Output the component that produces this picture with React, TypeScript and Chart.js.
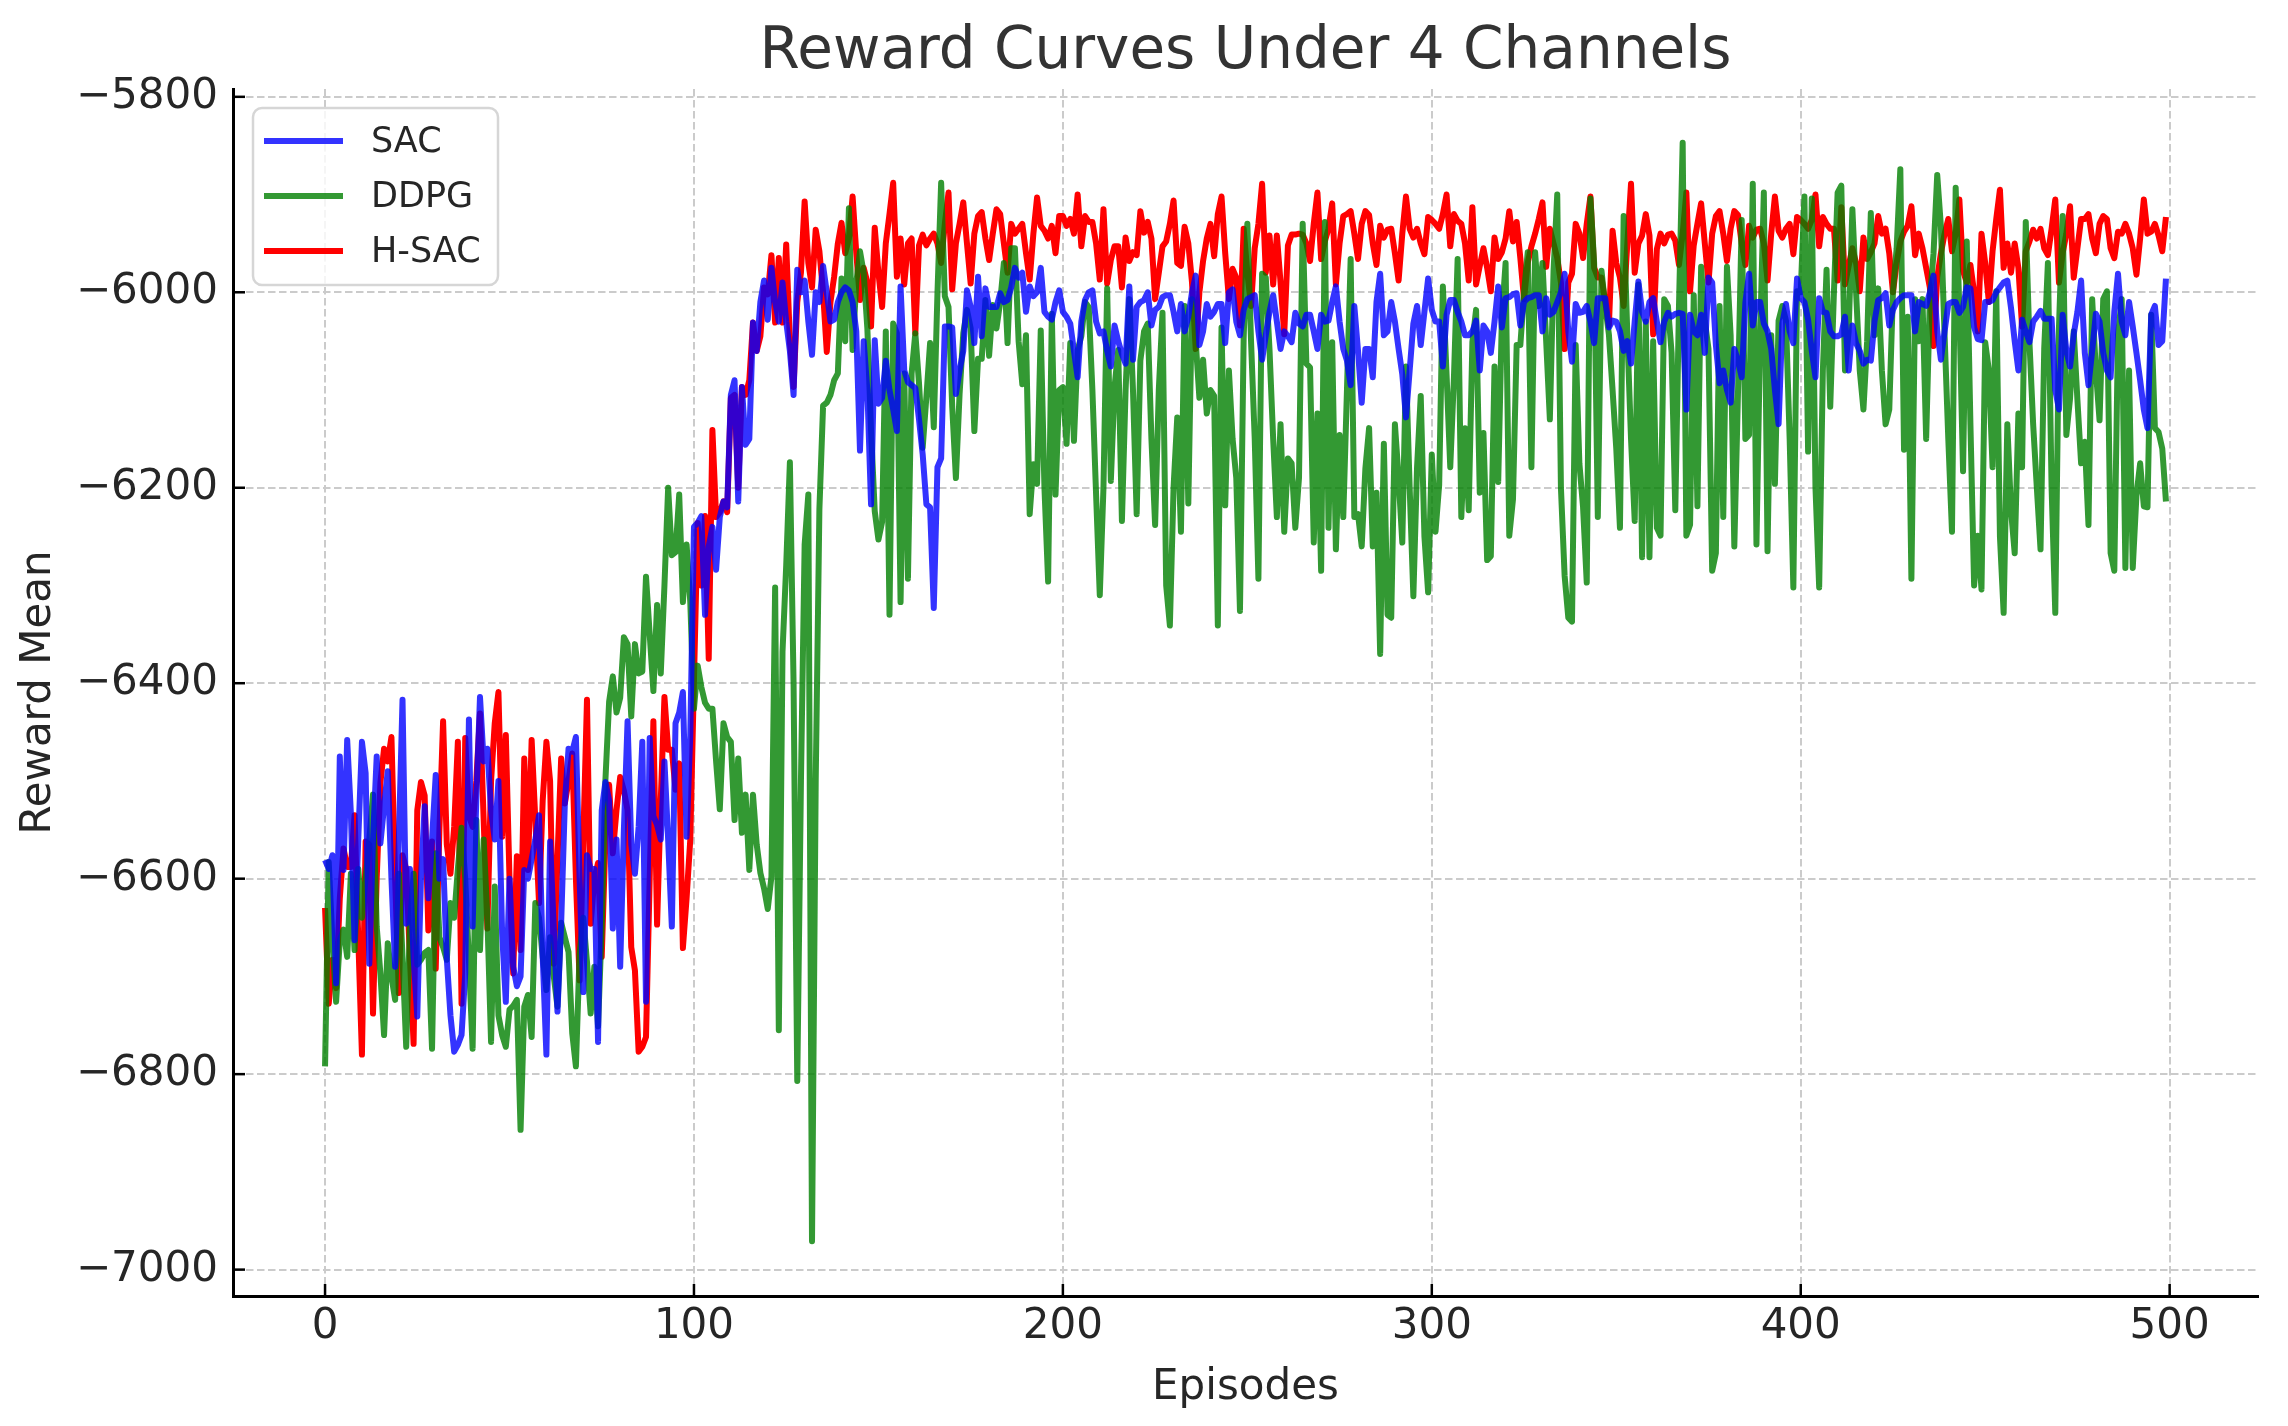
import { useEffect, useRef } from "react";
import { Chart, registerables } from "chart.js";

Chart.register(...registerables);

const TITLE = "Reward Curves Under 4 Channels";
const X_LABEL = "Episodes";
const Y_LABEL = "Reward Mean";
const SERIES_NAMES = ["SAC", "DDPG", "H-SAC"];
const X_TICKS = [0, 100, 200, 300, 400, 500];
const Y_TICKS = [-7000, -6800, -6600, -6400, -6200, -6000, -5800];

const SAC = [
  -6581,-6590,-6576,-6707,-6475,-6591,-6458,-6533,-6663,-6560,
  -6460,-6492,-6687,-6560,-6475,-6564,-6526,-6490,-6600,-6690,
  -6560,-6417,-6646,-6590,-6680,-6741,-6600,-6526,-6620,-6560,
  -6494,-6600,-6580,-6682,-6740,-6777,-6770,-6760,-6697,-6437,
  -6649,-6520,-6414,-6480,-6467,-6530,-6560,-6500,-6656,-6726,
  -6600,-6690,-6710,-6700,-6591,-6600,-6580,-6560,-6535,-6680,
  -6780,-6562,-6650,-6736,-6646,-6523,-6467,-6470,-6455,-6600,
  -6716,-6576,-6590,-6590,-6767,-6530,-6501,-6520,-6651,-6560,
  -6690,-6550,-6439,-6565,-6595,-6547,-6460,-6726,-6456,-6536,
  -6545,-6560,-6480,-6560,-6649,-6441,-6430,-6409,-6557,-6453,
  -6240,-6236,-6229,-6330,-6260,-6240,-6284,-6230,-6214,-6220,
  -6105,-6090,-6214,-6097,-6156,-6150,-6031,-6060,-6010,-5988,
  -6028,-5975,-6010,-6030,-5990,-6030,-6060,-6105,-5977,-6000,
  -5988,-6030,-6064,-6000,-6010,-5973,-6000,-6030,-6028,-6010,
  -6000,-5995,-5998,-6010,-6040,-6162,-6050,-6100,-6217,-6049,
  -6114,-6108,-6070,-6100,-6120,-6142,-5994,-6080,-6092,-6095,
  -6098,-6130,-6166,-6217,-6220,-6323,-6179,-6170,-6035,-6035,
  -6036,-6104,-6080,-6060,-5998,-6015,-6052,-5984,-6045,-5996,
  -6015,-6015,-6015,-6001,-6010,-6008,-5995,-5975,-5985,-5980,
  -6020,-5994,-6004,-6000,-5975,-6020,-6025,-6028,-6010,-5998,
  -6020,-6025,-6032,-6060,-6087,-6030,-6008,-6000,-5998,-6030,
  -6042,-6040,-6060,-6076,-6034,-6050,-6063,-6073,-5994,-6069,
  -6015,-6010,-6008,-6000,-6034,-6018,-6015,-6005,-6003,-6003,
  -6020,-6040,-6012,-6040,-6025,-6000,-5983,-6054,-6040,-6012,
  -6025,-6020,-6012,-6012,-6052,-6000,-5997,-6030,-6044,-6018,
  -6007,-6005,-6003,-6040,-6069,-6044,-6020,-6003,-6030,-6058,
  -6040,-6045,-6051,-6021,-6032,-6035,-6023,-6023,-6040,-6058,
  -6023,-6030,-6029,-6010,-5994,-6030,-6058,-6070,-6095,-6014,
  -6060,-6113,-6058,-6058,-6087,-6010,-5981,-6044,-6040,-6010,
  -6030,-6058,-6084,-6128,-6080,-6032,-6014,-6054,-6020,-5986,
  -6018,-6030,-6030,-6076,-6023,-6008,-6008,-6020,-6030,-6044,
  -6044,-6040,-6029,-6080,-6034,-6040,-6062,-6030,-5994,-6036,
  -6006,-6005,-6002,-6001,-6034,-6010,-6006,-6005,-6003,-6003,
  -6040,-6006,-6023,-6020,-6010,-6000,-5981,-6040,-6071,-6012,
  -6021,-6020,-6014,-6030,-6052,-6006,-6006,-6006,-6036,-6029,
  -6030,-6040,-6060,-6050,-6073,-6030,-5989,-6020,-6030,-6010,
  -6006,-6030,-6051,-6030,-6021,-6025,-6022,-6021,-6022,-6120,
  -6023,-6040,-6044,-6023,-6062,-5985,-5990,-6054,-6093,-6080,
  -6100,-6113,-6058,-6070,-6087,-6010,-5981,-6034,-6010,-6010,
  -6032,-6040,-6058,-6100,-6135,-6032,-6012,-6040,-6052,-5986,
  -6006,-6010,-6028,-6060,-6087,-6006,-6020,-6021,-6040,-6045,
  -6045,-6043,-6025,-6080,-6034,-6052,-6060,-6073,-6069,-6070,
  -6030,-6008,-6006,-6001,-6034,-6018,-6010,-6006,-6003,-6003,
  -6003,-6040,-6010,-6012,-6014,-6000,-5983,-6040,-6069,-6040,
  -6012,-6010,-6010,-6021,-6015,-5995,-5996,-6036,-6048,-6049,
  -6010,-6010,-6008,-6000,-5995,-5990,-5988,-6016,-6050,-6080,
  -6028,-6040,-6051,-6030,-6025,-6019,-6027,-6027,-6027,-6100,
  -6120,-6023,-6060,-6076,-6043,-6020,-5988,-6062,-6095,-6060,
  -6022,-6030,-6062,-6080,-6087,-6020,-5981,-6030,-6044,-6010,
  -6035,-6062,-6090,-6120,-6139,-6023,-6014,-6054,-6050,-5986,
];

const DDPG = [
  -6792,-6583,-6663,-6726,-6663,-6652,-6680,-6595,-6673,-6590,
  -6640,-6600,-6560,-6514,-6649,-6697,-6760,-6666,-6700,-6724,
  -6595,-6680,-6772,-6649,-6595,-6688,-6683,-6676,-6673,-6774,
  -6574,-6660,-6670,-6683,-6625,-6640,-6590,-6548,-6600,-6683,
  -6774,-6540,-6673,-6560,-6640,-6767,-6608,-6740,-6760,-6772,
  -6734,-6730,-6724,-6857,-6731,-6719,-6762,-6625,-6640,-6680,
  -6714,-6660,-6700,-6731,-6645,-6660,-6675,-6758,-6792,-6677,
  -6640,-6685,-6738,-6690,-6751,-6649,-6499,-6419,-6393,-6430,
  -6415,-6353,-6360,-6434,-6360,-6390,-6388,-6291,-6350,-6408,
  -6320,-6390,-6300,-6200,-6269,-6266,-6207,-6317,-6258,-6317,
  -6426,-6382,-6404,-6420,-6426,-6426,-6480,-6529,-6441,-6455,
  -6460,-6540,-6477,-6553,-6514,-6591,-6514,-6565,-6594,-6610,
  -6631,-6598,-6302,-6755,-6368,-6280,-6174,-6400,-6807,-6500,
  -6258,-6207,-6971,-6500,-6222,-6116,-6113,-6105,-6090,-6083,
  -5986,-6050,-5914,-6059,-5990,-5958,-5980,-6037,-6141,-6224,
  -6253,-6235,-6040,-6330,-6032,-6042,-6317,-6083,-6293,-6083,
  -6042,-6093,-6159,-6107,-6052,-6138,-6001,-5888,-6004,-6015,
  -6117,-6190,-6104,-6042,-6018,-6037,-6142,-6068,-6068,-6008,
  -6065,-6013,-6037,-6010,-5970,-6052,-5955,-5955,-6050,-6094,
  -6044,-6227,-6176,-6196,-6039,-6200,-6296,-6022,-6207,-6100,
  -6097,-6155,-6052,-6152,-6059,-6045,-6010,-6015,-6100,-6207,
  -6310,-6200,-5996,-6193,-6097,-6059,-6234,-6100,-6007,-6100,
  -6227,-6070,-6040,-6032,-6150,-6238,-6100,-6021,-6300,-6341,
  -6200,-6128,-6245,-6014,-6216,-6007,-6050,-6108,-6069,-6124,
  -6100,-6106,-6341,-6036,-6218,-6080,-6150,-6190,-6326,-6047,
  -5930,-6050,-6150,-6293,-5981,-5985,-6058,-6150,-6230,-6135,
  -6245,-6170,-6175,-6241,-6190,-5930,-6073,-6077,-6256,-6124,
  -6285,-5928,-6241,-6051,-6263,-6146,-6230,-6100,-5966,-6230,
  -6227,-6260,-6180,-6139,-6260,-6205,-6370,-6155,-6330,-6333,
  -6135,-6190,-6256,-6076,-6200,-6311,-6179,-6106,-6250,-6307,
  -6166,-6245,-6197,-5994,-6084,-6179,-6087,-5966,-6230,-6139,
  -6223,-6051,-6018,-6205,-6144,-6274,-6270,-6076,-6194,-6025,
  -5970,-6249,-6212,-6054,-6054,-6000,-5959,-6179,-5959,-6014,
  -5970,-6050,-6130,-5978,-5900,-6200,-6290,-6333,-6337,-6054,
  -6175,-6220,-6297,-5904,-5970,-6230,-5978,-6014,-6043,-6100,
  -6160,-6241,-5922,-6043,-6150,-6234,-5992,-6271,-6030,-6271,
  -6050,-6241,-6249,-6007,-6014,-6062,-6223,-6014,-5847,-6249,
  -6238,-6003,-6219,-5974,-6029,-6058,-6285,-6267,-6014,-6230,
  -5974,-6044,-6260,-6102,-5926,-6150,-6146,-5889,-6258,-6044,
  -5898,-6265,-6044,-6196,-6029,-6014,-6029,-6150,-6302,-5999,
  -6000,-5902,-6163,-5904,-6200,-6302,-6080,-5977,-6117,-6000,
  -5898,-5891,-6080,-6040,-5915,-5999,-6080,-6120,-6050,-5919,
  -6044,-5996,-6080,-6135,-6120,-6000,-5955,-5874,-6161,-6025,
  -6293,-6007,-6050,-6007,-6150,-6007,-5960,-5880,-5933,-6044,
  -6150,-6245,-5893,-6018,-6183,-5948,-6135,-6300,-6249,-6304,
  -6051,-6080,-6179,-5999,-6250,-6328,-6135,-6223,-6267,-6124,
  -6179,-5928,-6051,-6135,-6200,-6263,-6058,-5970,-6200,-6328,
  -6036,-5922,-6146,-6109,-6040,-6110,-6175,-6153,-6238,-6007,
  -6080,-6131,-6007,-5999,-6267,-6285,-6044,-6007,-6282,-6080,
  -6282,-6208,-6175,-6219,-6220,-6023,-6139,-6143,-6160,-6214,
];

const HSAC = [
  -6630,-6728,-6683,-6712,-6620,-6569,-6588,-6588,-6535,-6660,
  -6780,-6562,-6565,-6738,-6600,-6502,-6467,-6480,-6455,-6600,
  -6717,-6576,-6590,-6680,-6769,-6530,-6501,-6515,-6653,-6562,
  -6692,-6550,-6439,-6565,-6595,-6547,-6460,-6728,-6456,-6536,
  -6547,-6500,-6431,-6540,-6651,-6500,-6441,-6409,-6557,-6453,
  -6600,-6697,-6577,-6673,-6477,-6591,-6458,-6540,-6625,-6520,
  -6460,-6500,-6687,-6580,-6477,-6523,-6500,-6472,-6600,-6704,
  -6560,-6417,-6646,-6600,-6584,-6680,-6560,-6504,-6574,-6530,
  -6496,-6510,-6530,-6670,-6694,-6777,-6772,-6762,-6600,-6439,
  -6647,-6520,-6414,-6468,-6468,-6509,-6482,-6671,-6620,-6560,
  -6397,-6236,-6300,-6229,-6375,-6141,-6230,-6225,-6214,-6225,
  -6108,-6105,-6200,-6097,-6105,-6090,-6031,-6060,-6045,-5995,
  -6002,-5962,-6031,-5965,-6031,-5951,-6050,-6097,-6010,-5980,
  -5907,-5970,-5995,-5936,-5958,-6000,-6061,-6010,-5984,-5950,
  -5929,-5960,-5945,-5902,-5960,-6008,-5975,-5990,-6035,-5934,
  -5980,-6015,-5950,-5920,-5888,-5984,-5945,-5992,-5950,-5945,
  -6042,-5952,-5941,-5952,-5945,-5940,-5950,-5970,-5930,-5898,
  -5997,-5950,-5930,-5908,-5950,-5991,-5940,-5922,-5918,-5945,
  -5967,-5940,-5915,-5920,-5950,-5980,-5930,-5940,-5935,-5930,
  -5960,-5987,-5940,-5903,-5932,-5937,-5945,-5932,-5960,-5922,
  -5922,-5932,-5925,-5940,-5900,-5953,-5922,-5928,-5928,-5950,
  -5987,-5915,-5991,-5967,-5953,-5953,-5995,-5944,-5968,-5959,
  -5962,-5917,-5939,-5928,-5945,-6007,-5980,-5953,-5948,-5930,
  -5906,-5970,-5973,-5933,-5950,-5990,-6058,-6000,-5968,-5945,
  -5930,-5963,-5920,-5902,-5960,-6007,-5976,-5985,-6034,-5935,
  -5980,-6014,-5955,-5930,-5889,-5980,-5942,-5992,-5942,-5990,
  -6043,-5952,-5941,-5941,-5940,-5941,-5950,-5968,-5930,-5898,
  -5966,-5948,-5935,-5909,-5992,-5950,-5922,-5920,-5917,-5940,
  -5966,-5930,-5917,-5921,-5950,-5972,-5932,-5944,-5936,-5935,
  -5960,-5988,-5940,-5902,-5935,-5944,-5935,-5950,-5961,-5923,
  -5926,-5930,-5935,-5920,-5900,-5953,-5920,-5927,-5930,-5950,
  -5988,-5913,-5992,-5973,-5955,-5975,-5999,-5944,-5966,-5959,
  -5945,-5917,-5948,-5928,-5965,-6007,-5970,-5953,-5940,-5925,
  -5908,-5974,-5935,-5950,-5965,-5990,-6058,-5990,-5981,-5930,
  -5940,-5965,-5930,-5902,-5975,-5985,-5985,-6010,-6034,-5937,
  -5970,-5985,-6014,-5950,-5889,-5980,-5950,-5942,-5920,-5942,
  -6043,-5956,-5940,-5950,-5941,-5940,-5947,-5972,-5940,-5898,
  -5999,-5952,-5930,-5909,-5950,-5990,-5940,-5922,-5917,-5940,
  -5968,-5935,-5917,-5921,-5950,-5972,-5932,-5944,-5936,-5935,
  -5950,-5988,-5940,-5902,-5937,-5944,-5935,-5930,-5961,-5923,
  -5926,-5930,-5935,-5926,-5900,-5953,-5923,-5930,-5935,-5935,
  -5988,-5913,-5992,-5973,-5955,-5970,-5999,-5944,-5966,-5959,
  -5950,-5922,-5940,-5935,-5960,-6000,-5970,-5948,-5938,-5932,
  -5912,-5962,-5940,-5955,-5975,-5995,-6055,-5985,-5960,-5940,
  -5925,-5958,-5940,-5905,-5978,-5990,-5972,-6000,-6040,-5940,
  -5970,-6010,-5958,-5925,-5895,-5975,-5950,-5980,-5950,-5975,
  -6035,-5958,-5948,-5936,-5945,-5935,-5955,-5962,-5935,-5905,
  -5990,-5960,-5940,-5912,-5985,-5955,-5925,-5925,-5920,-5945,
  -5960,-5930,-5922,-5925,-5955,-5965,-5938,-5940,-5930,-5940,
  -5955,-5982,-5945,-5905,-5940,-5938,-5930,-5942,-5958,-5923,
];

const EPISODES = SAC.map((_, i) => i);

const FONT = '"DejaVu Sans", sans-serif';
const TEXT_COLOR = "#262626";
const COLORS = ["rgba(0,0,255,0.8)", "rgba(0,128,0,0.8)", "rgb(255,0,0)"];

const overlay = {
  id: "overlay",
  afterDraw(chart: any) {
    const ctx = chart.ctx as CanvasRenderingContext2D;
    const a = chart.chartArea;
    const xs = chart.scales.x;
    const ys = chart.scales.y;
    ctx.save();
    // inward tick marks
    ctx.setLineDash([]);
    ctx.strokeStyle = "#000";
    ctx.lineWidth = 2.5;
    X_TICKS.forEach((v) => {
      const px = xs.getPixelForValue(v);
      ctx.beginPath();
      ctx.moveTo(px, a.bottom);
      ctx.lineTo(px, a.bottom - 12);
      ctx.stroke();
    });
    Y_TICKS.forEach((v) => {
      const py = ys.getPixelForValue(v);
      ctx.beginPath();
      ctx.moveTo(a.left, py);
      ctx.lineTo(a.left + 12, py);
      ctx.stroke();
    });
    // title
    const cx = (a.left + a.right) / 2;
    ctx.fillStyle = "#333333";
    ctx.font = `58px ${FONT}`;
    ctx.textAlign = "center";
    ctx.textBaseline = "alphabetic";
    ctx.fillText(TITLE, cx, 68);
    // axis labels
    ctx.fillStyle = TEXT_COLOR;
    ctx.font = `42px ${FONT}`;
    ctx.fillText(X_LABEL, cx, 1399);
    ctx.save();
    ctx.translate(50, (a.top + a.bottom) / 2);
    ctx.rotate(-Math.PI / 2);
    ctx.fillText(Y_LABEL, 0, 0);
    ctx.restore();
    // legend
    const lx = a.left + 20;
    const ly = a.top + 19;
    const lw = 245;
    const lh = 177;
    const r = 9;
    ctx.beginPath();
    ctx.moveTo(lx + r, ly);
    ctx.arcTo(lx + lw, ly, lx + lw, ly + lh, r);
    ctx.arcTo(lx + lw, ly + lh, lx, ly + lh, r);
    ctx.arcTo(lx, ly + lh, lx, ly, r);
    ctx.arcTo(lx, ly, lx + lw, ly, r);
    ctx.closePath();
    ctx.fillStyle = "rgba(255,255,255,0.8)";
    ctx.fill();
    ctx.strokeStyle = "#d6d6d6";
    ctx.lineWidth = 2.5;
    ctx.stroke();
    ctx.font = `35px ${FONT}`;
    ctx.textAlign = "left";
    ctx.textBaseline = "middle";
    SERIES_NAMES.forEach((name, i) => {
      const y = ly + 33 + i * 55;
      ctx.strokeStyle = COLORS[i];
      ctx.lineWidth = 6;
      ctx.lineCap = "butt";
      ctx.beginPath();
      ctx.moveTo(lx + 11, y);
      ctx.lineTo(lx + 90, y);
      ctx.stroke();
      ctx.fillStyle = TEXT_COLOR;
      ctx.fillText(name, lx + 118, y + 2);
    });
    ctx.restore();
  },
};

const GRID = {
  color: "#cbcbcb",
  lineWidth: 2,
  drawTicks: false,
};
const BORDER = { display: true, color: "#000", width: 3, dash: [7.5, 3.5] };

export default function App() {
  const ref = useRef<HTMLCanvasElement | null>(null);
  useEffect(() => {
    document.body.style.margin = "0";
    const canvas = ref.current;
    if (!canvas) return;
    const seriesList = [SAC, DDPG, HSAC];
    const chart = new Chart(canvas, {
      type: "line",
      data: {
        datasets: seriesList.map((s, k) => ({
          label: SERIES_NAMES[k],
          data: s.map((v, i) => ({ x: EPISODES[i], y: v })),
          borderColor: COLORS[k],
          backgroundColor: COLORS[k],
          borderWidth: 6,
          pointRadius: 0,
          tension: 0,
          fill: false,
          borderJoinStyle: "round" as const,
        })),
      },
      options: {
        animation: false,
        responsive: false,
        devicePixelRatio: 1,
        parsing: false,
        normalized: true,
        layout: { padding: { top: 89, right: 30, left: 0, bottom: 0 } },
        plugins: {
          legend: { display: false },
          title: { display: false },
          tooltip: { enabled: false },
        },
        scales: {
          x: {
            type: "linear",
            min: -24.95,
            max: 523.95,
            afterFit: (s: any) => {
              s.height = 130;
            },
            afterBuildTicks: (s: any) => {
              s.ticks = X_TICKS.map((v) => ({ value: v }));
            },
            ticks: {
              font: { family: FONT, size: 42 },
              color: TEXT_COLOR,
              padding: 6,
              maxRotation: 0,
              callback: (v: any) => String(v),
            },
            grid: GRID,
            border: BORDER,
          },
          y: {
            type: "linear",
            min: -7027,
            max: -5792,
            afterFit: (s: any) => {
              s.width = 233;
            },
            afterBuildTicks: (s: any) => {
              s.ticks = Y_TICKS.map((v) => ({ value: v }));
            },
            ticks: {
              font: { family: FONT, size: 42 },
              color: TEXT_COLOR,
              padding: 15,
              callback: (v: any) => (Number(v) < 0 ? "\u2212" + Math.abs(Number(v)) : String(v)),
            },
            grid: GRID,
            border: BORDER,
          },
        },
      },
      plugins: [overlay],
    } as any);
    return () => chart.destroy();
  }, []);
  return (
    <canvas
      ref={ref}
      width={2288}
      height={1426}
      style={{ display: "block", width: "2288px", height: "1426px" }}
    />
  );
}
